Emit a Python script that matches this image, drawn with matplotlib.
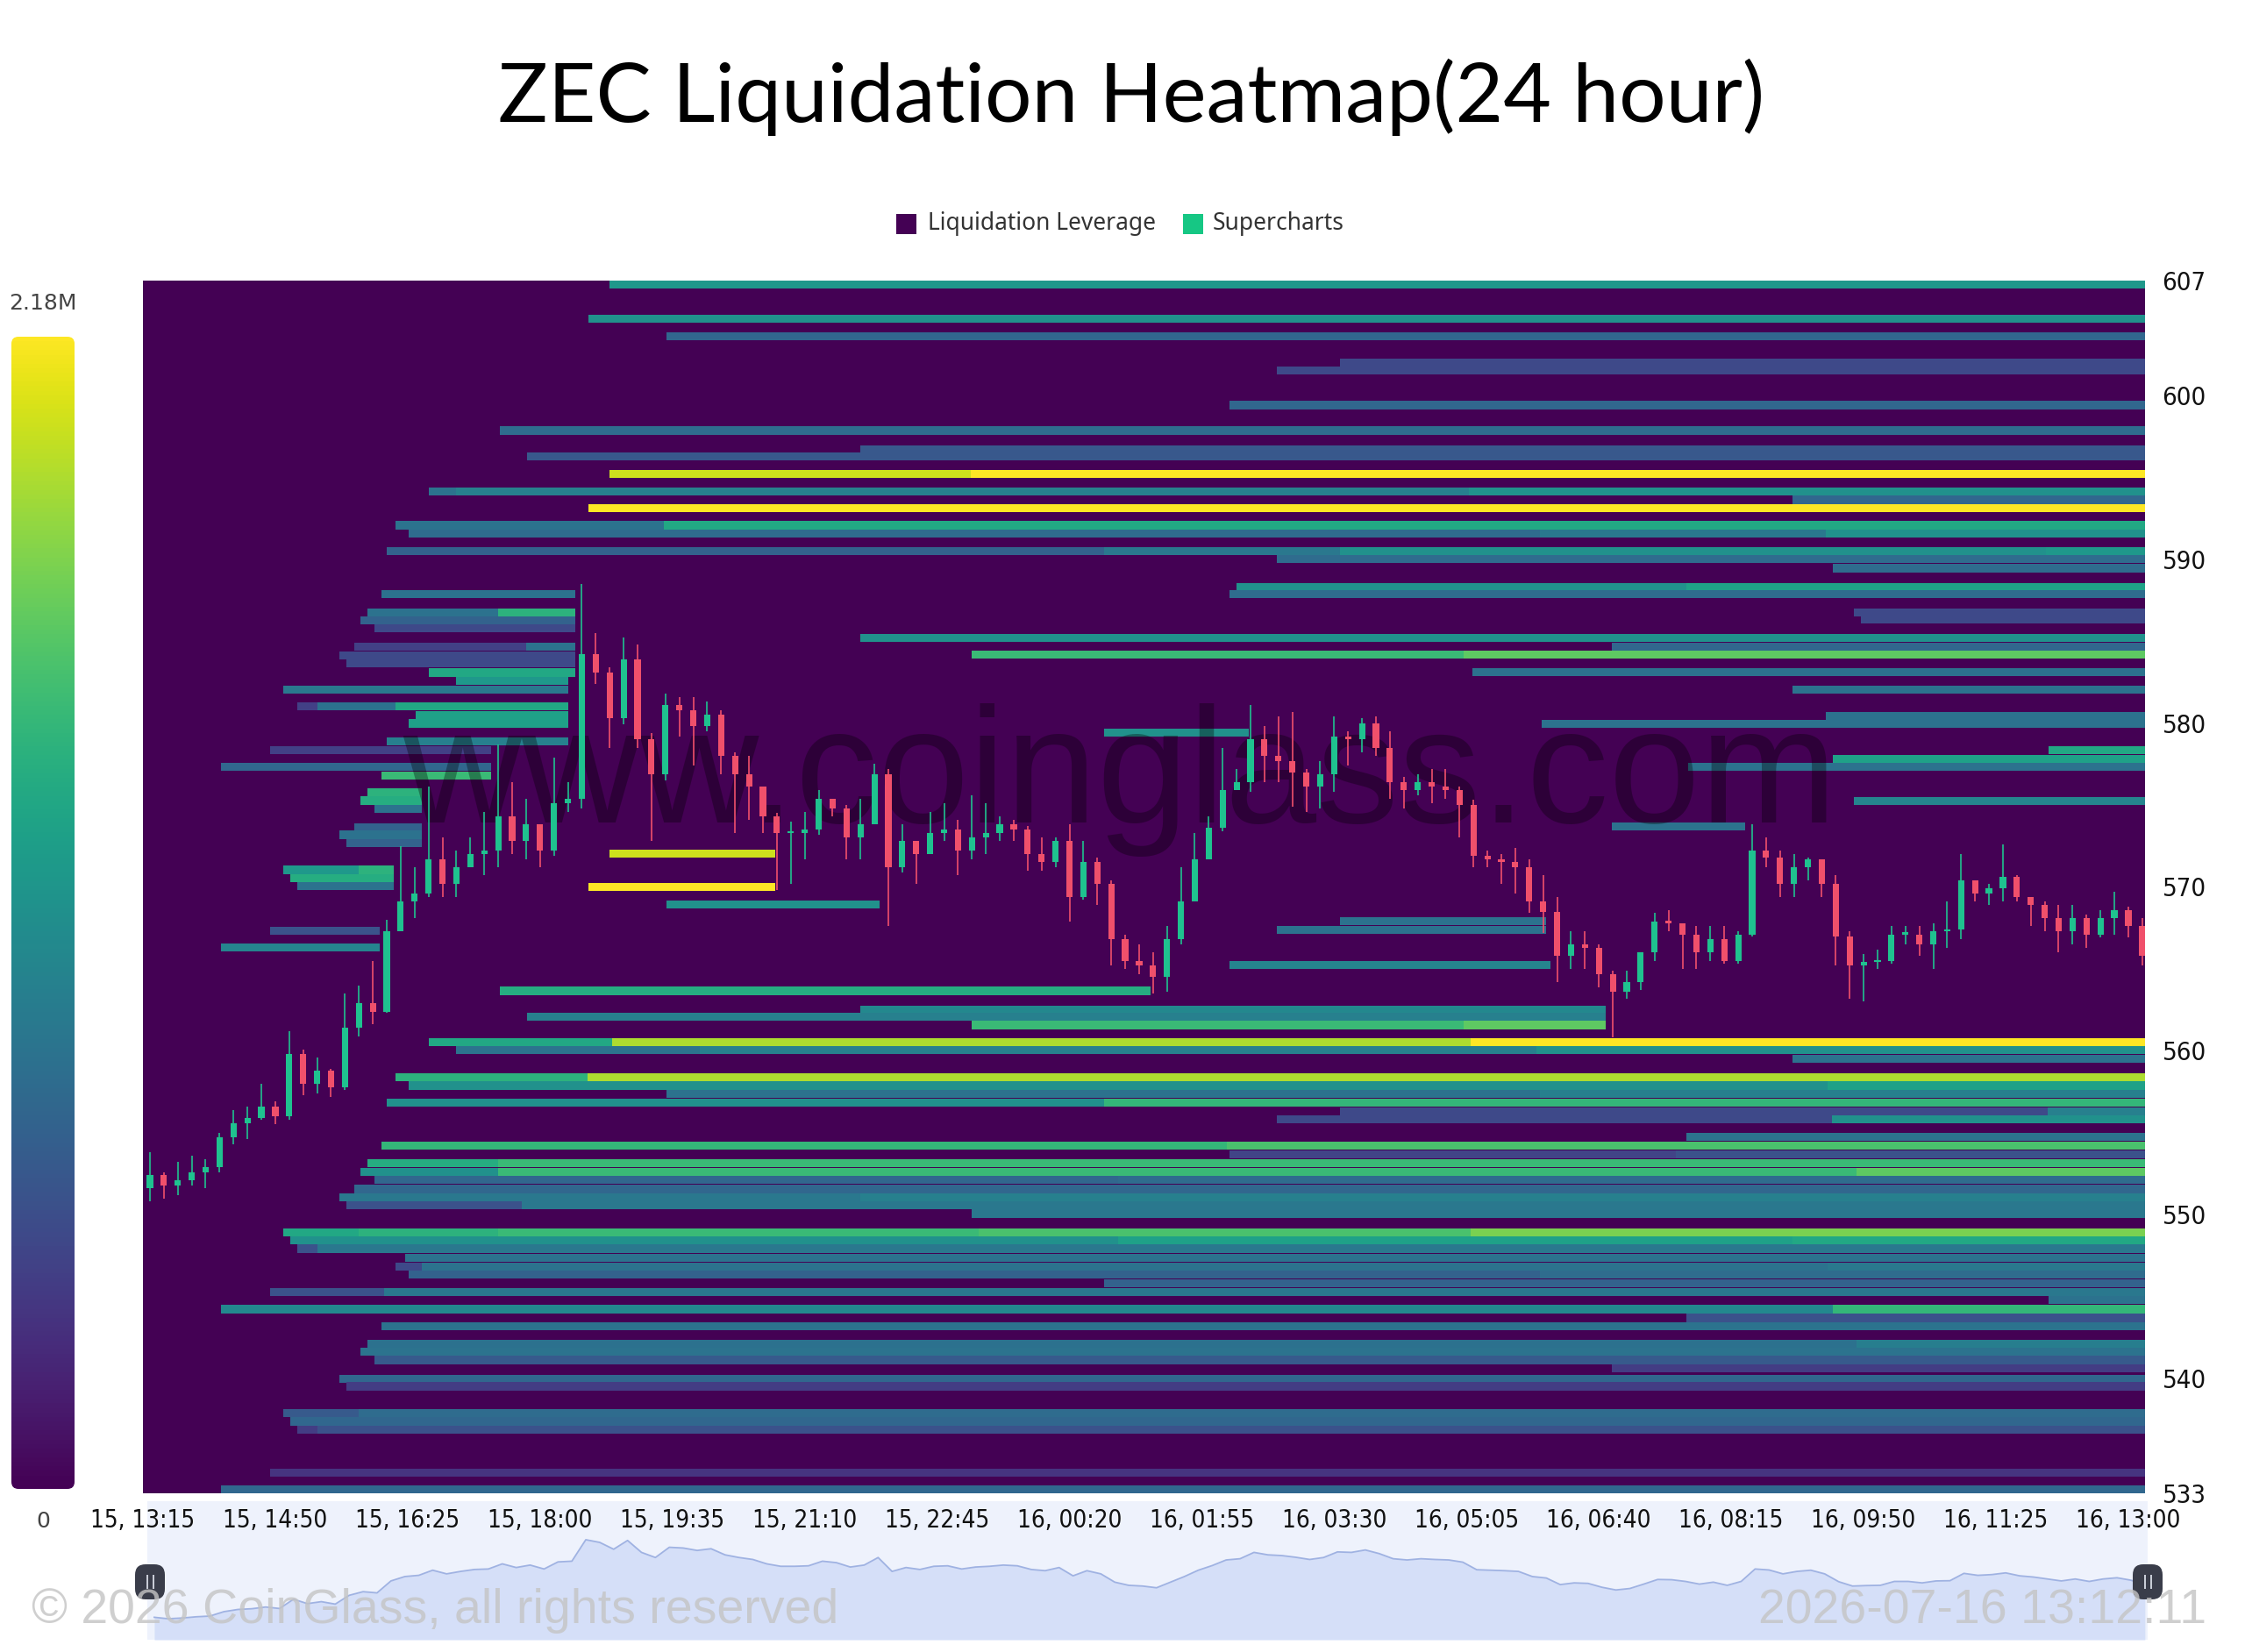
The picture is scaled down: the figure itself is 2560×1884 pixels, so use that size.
from __future__ import annotations

import matplotlib
matplotlib.use("Agg")
import matplotlib.pyplot as plt
import matplotlib.patches as patches
from matplotlib.transforms import IdentityTransform
import numpy as np
import pandas as pd

# ---------------- data ----------------
START = "2026-07-15 13:15"
NOW = "2026-07-16 13:12"
STAMP = "2026-07-16 13:12:11"
COLOR_MAX = 2.18  # liquidation leverage, millions

TICK_TIMES = [
    "2026-07-15 13:15", "2026-07-15 14:50", "2026-07-15 16:25", "2026-07-15 18:00",
    "2026-07-15 19:35", "2026-07-15 21:10", "2026-07-15 22:45", "2026-07-16 00:20",
    "2026-07-16 01:55", "2026-07-16 03:30", "2026-07-16 05:05", "2026-07-16 06:40",
    "2026-07-16 08:15", "2026-07-16 09:50", "2026-07-16 11:25", "2026-07-16 13:00",
]
PRICE_TICKS = [533, 540, 550, 560, 570, 580, 590, 600, 607]

# 10-minute candles from 15, 13:15
FIRST_OPEN = 551.6
CANDLE_CLOSE = [
    552.4, 551.8, 552.1, 552.6, 552.9, 554.7, 555.6, 555.9, 556.6, 556.0, 559.8, 558.0,
    558.8, 557.8, 561.4, 562.9, 562.4, 567.3, 569.1, 569.6, 571.7, 570.2, 571.2, 572.0,
    572.2, 574.3, 572.8, 573.8, 572.2, 575.1, 575.4, 584.2, 583.1, 580.3, 583.9, 579.0,
    576.9, 581.1, 580.8, 579.8, 580.5, 578.0, 576.9, 576.1, 574.3, 573.3, 573.3, 573.5,
    575.4, 574.8, 573.0, 573.8, 576.9, 571.2, 572.8, 572.0, 573.3, 573.5, 572.2, 573.0,
    573.3, 573.8, 573.5, 572.0, 571.5, 572.8, 569.4, 571.5, 570.2, 566.8, 565.5, 565.2,
    564.5, 566.8, 569.1, 571.7, 573.6, 575.9, 576.4, 579.0, 578.0, 577.7, 577.0, 576.1,
    576.9, 579.2, 579.0, 580.0, 578.5, 576.4, 575.9, 576.4, 576.1, 575.9, 575.0, 571.9,
    571.7, 571.5, 571.2, 569.1, 568.5, 565.8, 566.5, 566.3, 564.7, 563.6, 564.2, 566.0,
    567.9, 567.8, 567.1, 566.0, 566.8, 565.5, 567.1, 572.2, 571.8, 570.2, 571.2, 571.7,
    570.2, 567.0, 565.2, 565.4, 565.5, 567.1, 567.1, 566.5, 567.3, 567.4, 570.4, 569.6,
    569.9, 570.6, 569.4, 568.9, 568.1, 567.3, 568.1, 567.1, 568.1, 568.6, 567.6, 565.8,
]
CANDLE_HIGH = [
    553.8, 552.6, 553.2, 553.6, 553.4, 555.0, 556.4, 556.6, 558.0, 556.9, 561.2, 560.1,
    559.6, 558.9, 563.5, 564.0, 565.5, 568.0, 572.5, 571.2, 576.1, 573.0, 572.2, 573.0,
    574.6, 578.7, 576.4, 575.4, 573.8, 577.9, 576.4, 588.5, 585.5, 583.4, 585.2, 584.8,
    579.4, 581.8, 581.6, 581.6, 581.3, 580.8, 578.2, 578.0, 576.1, 574.5, 574.0, 574.6,
    575.9, 575.4, 575.0, 575.4, 577.5, 577.2, 573.8, 572.8, 574.6, 575.1, 574.1, 575.6,
    575.1, 574.3, 574.1, 573.7, 573.0, 573.0, 573.8, 572.8, 571.8, 570.4, 567.1, 566.5,
    566.0, 567.6, 571.2, 573.3, 574.3, 578.5, 577.2, 581.1, 579.8, 580.4, 580.7, 577.2,
    577.7, 580.4, 579.5, 580.3, 580.4, 579.5, 576.7, 576.9, 577.2, 577.2, 576.1, 575.3,
    572.2, 572.0, 572.4, 571.7, 570.7, 569.4, 567.3, 567.3, 566.5, 564.9, 564.9, 566.0,
    568.4, 568.6, 567.8, 567.6, 567.6, 567.6, 567.3, 573.8, 573.0, 572.2, 572.0, 571.8,
    571.7, 570.7, 567.3, 565.9, 566.2, 567.6, 567.6, 567.6, 567.8, 569.1, 572.0, 570.4,
    570.2, 572.6, 570.7, 569.4, 569.1, 568.9, 568.9, 568.3, 568.6, 569.7, 568.8, 568.1,
]
CANDLE_LOW = [
    550.8, 551.0, 551.2, 551.8, 551.6, 552.6, 554.3, 554.6, 555.8, 555.5, 555.8, 557.3,
    557.4, 557.2, 557.6, 560.9, 561.6, 562.3, 567.3, 568.1, 569.4, 569.4, 569.4, 571.2,
    570.7, 571.2, 572.0, 571.7, 571.2, 571.9, 574.6, 574.8, 582.4, 578.5, 579.9, 578.5,
    572.8, 576.5, 579.2, 577.4, 579.5, 576.9, 573.3, 574.1, 573.3, 569.8, 570.2, 571.7,
    573.2, 574.3, 571.7, 571.7, 573.8, 567.6, 570.9, 570.2, 572.0, 572.8, 570.7, 571.7,
    572.0, 572.8, 572.8, 571.0, 571.0, 571.2, 567.9, 569.2, 568.9, 565.2, 565.0, 564.7,
    563.5, 563.6, 566.5, 569.1, 571.7, 573.4, 575.9, 575.8, 576.4, 576.4, 574.9, 574.6,
    574.8, 575.8, 577.4, 578.2, 578.0, 575.4, 574.8, 575.6, 575.1, 575.4, 573.0, 571.2,
    571.2, 570.2, 569.6, 568.4, 567.2, 564.2, 565.0, 565.0, 563.9, 560.8, 563.2, 563.7,
    565.5, 567.3, 565.0, 565.0, 565.5, 565.3, 565.3, 567.0, 571.2, 569.4, 569.4, 570.4,
    569.4, 565.2, 563.2, 563.0, 565.0, 565.3, 566.5, 565.8, 565.0, 566.3, 566.8, 569.1,
    568.9, 569.1, 569.1, 567.6, 567.3, 566.0, 566.5, 566.3, 566.9, 567.1, 566.9, 565.2,
]

# liquidation bands still open at the right edge: price, [(start minute, value M), ...]
OPEN_PRICE = [
    606.79, 604.65, 603.62, 601.98, 601.53, 599.40, 597.85, 596.72, 596.25, 595.19,
    594.14, 593.62, 593.11, 592.07, 591.58, 590.48, 590.01, 589.45, 588.29, 587.85,
    586.77, 586.32, 585.19, 584.68, 584.16, 583.10, 582.05, 580.43, 579.96, 578.34,
    577.82, 577.33, 575.24, 560.51, 560.04, 559.53, 558.37, 557.88, 557.39, 556.85,
    556.31, 555.82, 554.74, 554.22, 553.70, 553.14, 552.62, 552.11, 551.57, 551.08,
    550.58, 550.07, 548.94, 548.45, 547.93, 547.37, 546.82, 546.33, 545.82, 545.30,
    544.78, 544.24, 543.70, 543.21, 542.13, 541.62, 541.13, 540.61, 539.99, 539.53,
    537.88, 537.39, 536.90, 534.24, 533.21,
]
OPEN_STEPS = [
    [(335, 1.16)], [(320, 1.09)], [(376, 0.72)], [(859, 0.48)], [(814, 0.48)],
    [(780, 0.72)], [(256, 0.76)], [(515, 0.59)], [(276, 0.59)], [(335, 2.01), (594, 2.18)],
    [(205, 0.83), (225, 0.94), (952, 1.09)], [(1184, 0.72)], [(320, 2.18)],
    [(181, 0.83), (374, 1.31)], [(191, 0.76), (1003, 0.87), (1208, 1.09)],
    [(175, 0.68), (690, 0.87), (859, 1.09), (1366, 1.16)], [(814, 0.76)], [(1213, 0.76)],
    [(785, 1.09), (1108, 1.26)], [(780, 0.76)],
    [(1228, 0.48)], [(1233, 0.48)], [(515, 1.09)], [(1054, 0.72)], [(595, 1.48), (948, 1.64)],
    [(954, 0.82)], [(1184, 0.82)], [(1208, 0.82)], [(1004, 0.82)], [(1368, 1.31)],
    [(1213, 1.24)], [(1109, 0.82)], [(1228, 0.98)],
    [(205, 1.31), (337, 1.91), (953, 2.18)], [(225, 0.83), (400, 0.94), (1000, 1.09)],
    [(1184, 0.82)], [(181, 1.40), (319, 1.91)], [(191, 1.09), (1209, 1.24)],
    [(376, 0.82), (1003, 0.94)], [(175, 1.09), (690, 1.44)],
    [(859, 0.48), (1367, 0.94)], [(814, 0.48), (1212, 1.09)], [(1108, 0.82)],
    [(171, 1.44), (778, 1.55)], [(780, 0.44), (1100, 0.55)], [(161, 1.35), (255, 1.48)],
    [(156, 1.09), (255, 1.48), (1230, 1.64)], [(166, 0.72), (700, 0.76)], [(152, 0.72)],
    [(141, 0.87), (515, 0.94)],
    [(146, 0.55), (272, 0.87)], [(595, 0.87)],
    [(101, 1.31), (155, 1.40), (255, 1.48), (600, 1.55), (953, 1.74)],
    [(106, 1.09), (700, 1.24), (1184, 1.31)], [(111, 0.55), (125, 0.87)], [(188, 0.82)],
    [(181, 0.48), (200, 0.82), (1209, 0.87)], [(191, 0.68), (1003, 0.76)], [(690, 0.68)],
    [(91, 0.55), (173, 0.87)],
    [(1368, 0.82)], [(56, 1.02), (1213, 1.44)], [(1108, 0.55)], [(171, 0.83)],
    [(161, 0.81), (1230, 0.92)], [(156, 0.83)], [(166, 0.61)], [(1054, 0.39)],
    [(141, 0.72)], [(146, 0.39)],
    [(101, 0.61), (155, 0.76)], [(106, 0.72)], [(111, 0.39), (125, 0.55)], [(91, 0.33)],
    [(56, 0.72)],
]

# bands already swept by price: price, end minute, [(start minute, value M), ...]
CLOSED_PRICE = [
    579.42, 573.67, 587.85, 586.77, 586.27, 585.78, 584.68, 584.11, 583.65, 583.08,
    582.59, 582.05, 581.00, 580.50, 579.98, 578.90, 578.36, 577.35, 576.81, 575.76,
    575.27, 574.78, 573.64, 573.18, 572.66, 571.04, 570.55, 570.06, 572.05, 569.98,
    568.91, 567.90, 567.40, 567.34, 566.29, 565.23, 563.66, 562.53, 562.06, 561.57,
]
CLOSED_END = [
    794, 1150, 310, 310, 310, 310, 310, 310, 310, 310,
    305, 305, 305, 305, 305, 305, 250, 250, 250, 200,
    200, 200, 200, 200, 200, 180, 180, 180, 454, 454,
    529, 1007, 1007, 170, 170, 1010, 723, 1050, 1050, 1050,
]
CLOSED_STEPS = [
    [(690, 1.09)], [(1054, 0.82)], [(171, 0.82)], [(161, 0.82), (255, 1.40)], [(156, 0.68)],
    [(166, 0.48)], [(152, 0.41), (275, 0.82)], [(141, 0.48)], [(146, 0.48)], [(205, 1.31)],
    [(225, 1.16)], [(101, 0.87)], [(111, 0.41), (125, 0.82), (181, 1.31)], [(196, 1.24)],
    [(191, 1.24)], [(175, 0.94)], [(91, 0.41)], [(56, 0.72)], [(171, 1.48)], [(161, 1.40)],
    [(156, 1.35)], [(166, 0.82)], [(152, 0.68)], [(141, 0.82)], [(146, 0.68)],
    [(101, 1.16), (155, 1.40)], [(106, 1.35)], [(111, 0.82)], [(335, 2.01)], [(320, 2.18)],
    [(376, 1.09)], [(859, 0.82)], [(814, 0.82)], [(91, 0.55)], [(56, 0.98)],
    [(780, 0.98)], [(256, 1.35)], [(515, 1.02)], [(276, 0.94)], [(595, 1.48), (948, 1.64)],
]

# ---------------- layout ----------------
W, H, DPI = 2560, 1884, 100
BAND_H = 0.49
CANDLE_MIN = 10
GREEN = "#1fc28f"
RED = "#f0506b"


def px_box(left, top, right, bottom):
    return [left / W, 1 - bottom / H, (right - left) / W, (bottom - top) / H]


def main() -> None:
    t0 = pd.Timestamp(START)
    x_end = (pd.Timestamp(NOW) - t0).total_seconds() / 60
    tick_ts = pd.to_datetime(TICK_TIMES)
    tick_x = (tick_ts - t0).total_seconds() / 60
    tick_labels = [f"{t.day}, {t:%H:%M}" for t in tick_ts]

    cmap = plt.get_cmap("viridis")
    norm = plt.Normalize(0, COLOR_MAX)

    fig = plt.figure(figsize=(W / DPI, H / DPI), dpi=DPI)
    fig.patch.set_facecolor("white")

    # heatmap
    ax = fig.add_axes(px_box(163, 320, 2446, 1703), zorder=2)
    ax.set_facecolor(cmap(0.0))

    ys, lefts, widths, vals = [], [], [], []

    def add_band(price, steps, end):
        for k, (start, val) in enumerate(steps):
            stop = steps[k + 1][0] if k + 1 < len(steps) else end
            ys.append(price)
            lefts.append(start)
            widths.append(stop - start)
            vals.append(val)

    for price, steps in zip(OPEN_PRICE, OPEN_STEPS):
        add_band(price, steps, x_end)
    for price, end, steps in zip(CLOSED_PRICE, CLOSED_END, CLOSED_STEPS):
        add_band(price, steps, end)

    ax.barh(ys, widths, left=lefts, height=BAND_H, color=cmap(norm(np.array(vals))),
            linewidth=0, zorder=1)

    ax.text(0.488, 0.588, "www.coinglass.com", transform=ax.transAxes, ha="center", va="center",
            fontsize=135, color="black", alpha=0.33, family=["Liberation Sans", "DejaVu Sans"], zorder=2)

    # candles
    close = np.array(CANDLE_CLOSE)
    opens = np.r_[FIRST_OPEN, close[:-1]]
    x = np.arange(len(close)) * CANDLE_MIN + CANDLE_MIN / 2
    colors = np.where(close >= opens, GREEN, RED)
    ax.vlines(x, CANDLE_LOW, CANDLE_HIGH, colors=colors, linewidth=1.2, zorder=3)
    body = np.maximum(np.abs(close - opens), 0.12)
    ax.bar(x, body, bottom=np.minimum(opens, close), width=4.5, color=colors, linewidth=0, zorder=4)

    ax.set_xlim(0, x_end)
    ax.set_ylim(533, 607)
    for s in ax.spines.values():
        s.set_visible(False)
    ax.yaxis.tick_right()
    ax.set_yticks(PRICE_TICKS, [str(p) for p in PRICE_TICKS], family="DejaVu Sans", stretch="condensed")
    ax.set_xticks(tick_x, tick_labels, family="DejaVu Sans", stretch="condensed")
    ax.tick_params(axis="y", length=0, pad=14, labelsize=21, labelcolor="#111111")
    ax.tick_params(axis="x", length=0, pad=12, labelsize=20, labelcolor="#111111")

    # colour scale on the left
    cax = fig.add_axes(px_box(13, 384, 85, 1698))
    cw, ch = 72, 1314
    ramp = np.linspace(0, COLOR_MAX, 256).reshape(-1, 1)
    im = cax.imshow(ramp, cmap=cmap, norm=norm, origin="lower", aspect="auto", extent=[0, cw, 0, ch])
    clip = patches.FancyBboxPatch((0, 0), cw, ch, boxstyle="round,pad=0,rounding_size=8",
                                  transform=cax.transData, facecolor="none", edgecolor="none")
    cax.add_patch(clip)
    im.set_clip_path(clip)
    cax.set_xlim(0, cw)
    cax.set_ylim(0, ch)
    cax.axis("off")
    fig.text(49 / W, 1 - 346 / H, f"{COLOR_MAX:.2f}M", ha="center", va="center", fontsize=18, color="#444444")
    fig.text(49 / W, 1 - 1735 / H, "0", ha="center", va="center", fontsize=18, color="#444444")

    # navigator strip
    nav = fig.add_axes(px_box(168, 1712, 2449, 1870), zorder=1)
    nav.set_facecolor("#eef2fc")
    nav.fill_between(x, close, 543.2, color="#d5dff8", linewidth=0)
    nav.plot(x, close, color="#9fb2e2", linewidth=1.3)
    nav.set_xlim(0, x_end)
    nav.set_ylim(543.2, 600)
    nav.set_xticks([])
    nav.set_yticks([])
    for s in nav.spines.values():
        s.set_visible(False)

    for hx in (171, 2449):
        handle = patches.FancyBboxPatch((hx - 17, H - 1824), 34, 40, boxstyle="round,pad=0,rounding_size=12",
                                        transform=IdentityTransform(), facecolor="#3a3d4a", edgecolor="none",
                                        zorder=5)
        fig.add_artist(handle)
        for dx in (-4, 3):
            fig.add_artist(patches.Rectangle((hx + dx, H - 1812), 1.6, 16, transform=IdentityTransform(),
                                             facecolor="#c8ccd6", edgecolor="none", zorder=6))

    fig.text(36 / W, 1 - 1837 / H, "\u00a9 2026 CoinGlass, all rights reserved", ha="left", va="center",
             fontsize=40, color="#c4c4c4", alpha=0.8, family=["Liberation Sans", "DejaVu Sans"], zorder=7)
    fig.text(2516 / W, 1 - 1837 / H, STAMP, ha="right", va="center",
             fontsize=40, color="#c4c4c4", alpha=0.8, family=["Liberation Sans", "DejaVu Sans"], zorder=7)

    # title and legend
    fig.text(1290 / W, 1 - 111 / H, "ZEC Liquidation Heatmap(24 hour)", ha="center", va="center",
             fontsize=68, color="black", family=["Lato", "DejaVu Sans"])
    for sx, tx, col, label in ((1022, 1058, cmap(0.0), "Liquidation Leverage"),
                               (1349, 1383, "#16c784", "Supercharts")):
        fig.add_artist(patches.Rectangle((sx, H - 267), 23, 23, transform=IdentityTransform(),
                                         facecolor=col, edgecolor="none"))
        fig.text(tx / W, 1 - 255 / H, label, ha="left", va="center", fontsize=19, color="#333333",
                 family=["Noto Sans", "DejaVu Sans"])

    fig.savefig("out.png", dpi=DPI)


if __name__ == "__main__":
    main()
